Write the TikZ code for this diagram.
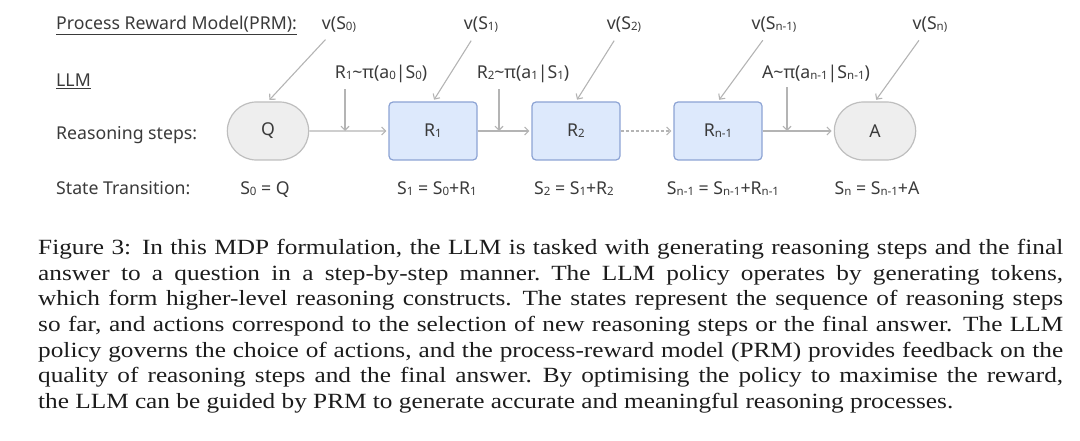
\documentclass[tikz,border=0pt]{standalone}
\usepackage{fontspec}
\setmainfont{Liberation Serif}
\setsansfont{Noto Sans}
\newfontfamily\capfont[FakeStretch=1.165]{Liberation Serif}
\usepackage{xcolor}
\usepackage{tikz}
\definecolor{mdptext}{RGB}{58,58,58}
\definecolor{mdpline}{RGB}{180,180,180}
\definecolor{mdpblue}{RGB}{221,233,252}
\definecolor{mdpblueedge}{RGB}{140,163,212}
\definecolor{mdpgray}{RGB}{238,238,238}
\definecolor{mdpgrayedge}{RGB}{190,190,190}
\definecolor{captext}{RGB}{28,28,28}
\usetikzlibrary{arrows.meta,positioning,shapes.misc,calc}
\newcommand{\ix}[1]{\raisebox{-1pt}{\fontsize{11.5}{12}\selectfont #1}}
\newcommand{\capline}[1]{\hbox to 1025pt{\spaceskip=0.29em plus 1em minus 0.1em\relax #1}}
\newcommand{\caplast}[1]{\hbox{\spaceskip=0.29em\relax #1}}

\begin{document}
\begin{tikzpicture}[x=1pt, y=-1pt, font=\sffamily\fontsize{17.7}{21}\selectfont, text=mdptext]
    \tikzstyle{stepbox} = [rectangle, rounded corners=4pt, draw=mdpblueedge, fill=mdpblue,
                           line width=1.2pt, minimum width=88pt, minimum height=58pt]
    \tikzstyle{endbox} = [rounded rectangle, draw=mdpgrayedge, fill=mdpgray,
                          line width=1.2pt, minimum width=88pt, minimum height=58pt]
    \tikzstyle{rowlabel} = [anchor=base west, inner sep=0pt]
    \tikzstyle{textlabel} = [anchor=base, inner sep=0pt]
    \tikzstyle{flow} = [-{Straight Barb[length=4pt,width=8pt]}, line width=1.1pt, mdpline]

    \useasboundingbox (0,0) rectangle (1080,441);

    % Row labels
    \node[rowlabel] (prm) at (56,30) {\underline{Process Reward Model(PRM):}};
    \node[rowlabel] (llm) at (56,87) {\underline{LLM}};
    \node[rowlabel] (rsn) at (56,140) {Reasoning steps:};
    \node[rowlabel] (trn) at (56,195) {State Transition:};

    % Reasoning steps
    \node[endbox] (q) at (268,131) {Q};
    \node[stepbox] (r1) at (433,131) {R\ix{1}};
    \node[stepbox] (r2) at (576,131) {R\ix{2}};
    \node[stepbox] (rn) at (718,131) {R\ix{n-1}};
    \node[endbox] (a) at (875,131) {A};

    % PRM values
    \node[textlabel] (v0) at (339,30) {v(S\ix{0)}};
    \node[textlabel] (v1) at (481,30) {v(S\ix{1)}};
    \node[textlabel] (v2) at (624,30) {v(S\ix{2)}};
    \node[textlabel] (vn1) at (774,30) {v(S\ix{n-1)}};
    \node[textlabel] (vn) at (930,30) {v(S\ix{n)}};

    % Policy samples
    \node[textlabel] (p1) at (381,79) {R\ix{1}\textasciitilde π(a\ix{0}|S\ix{0})};
    \node[textlabel] (p2) at (523,79) {R\ix{2}\textasciitilde π(a\ix{1}|S\ix{1})};
    \node[textlabel] (pn) at (816,79) {A\textasciitilde π(a\ix{n-1}|S\ix{n-1})};

    % State transitions
    \node[textlabel] (s0) at (265,195) {S\ix{0} = Q};
    \node[textlabel] (s1) at (437,195) {S\ix{1} = S\ix{0}+R\ix{1}};
    \node[textlabel] (s2) at (574,195) {S\ix{2} = S\ix{1}+R\ix{2}};
    \node[textlabel] (sn1) at (723,195) {S\ix{n-1} = S\ix{n-1}+R\ix{n-1}};
    \node[textlabel] (sn) at (877,195) {S\ix{n} = S\ix{n-1}+A};

    % Caption
    \node[anchor=north west, inner sep=0pt, text width=1025pt, text=captext,
          font=\capfont\fontsize{21.7}{25.7}\selectfont] (cap) at (38,239) {%
        \capline{Figure 3: In this MDP formulation, the LLM is tasked with generating reasoning steps and the final}
        \capline{answer to a question in a step-by-step manner. The LLM policy operates by generating tokens,}
        \capline{which form higher-level reasoning constructs. The states represent the sequence of reasoning steps}
        \capline{so far, and actions correspond to the selection of new reasoning steps or the final answer. The LLM}
        \capline{policy governs the choice of actions, and the process-reward model (PRM) provides feedback on the}
        \capline{quality of reasoning steps and the final answer. By optimising the policy to maximise the reward,}
        \caplast{the LLM can be guided by PRM to generate accurate and meaningful reasoning processes.}};

    % Junctions on the flow
    \coordinate (j1) at (345,131);
    \coordinate (j2) at (499,131);
    \coordinate (jn) at (787,131);

    % Flow arrows
    \draw[flow, shorten >=2pt] (q) -- (r1);
    \draw[flow, shorten >=2pt] (r1) -- (r2);
    \draw[flow, shorten >=2pt, dash pattern=on 3pt off 2pt] (r2) -- (rn);
    \draw[flow, shorten >=2pt] (rn) -- (a);

    % Policy arrows
    \draw[flow, shorten <=6pt] (p1.south -| j1) -- (j1);
    \draw[flow, shorten <=6pt] (p2.south -| j2) -- (j2);
    \draw[flow, shorten <=4pt] (pn.south -| jn) -- (jn);

    % PRM arrows
    \draw[flow, shorten <=9pt, shorten >=2pt] (v0) -- (q.north);
    \draw[flow, shorten <=9pt, shorten >=2pt] (v1) -- (r1.north);
    \draw[flow, shorten <=9pt, shorten >=2pt] (v2) -- (r2.north);
    \draw[flow, shorten <=9pt, shorten >=2pt] (vn1) -- (rn.north);
    \draw[flow, shorten <=9pt, shorten >=2pt] (vn) -- (a.north);
\end{tikzpicture}
\end{document}
